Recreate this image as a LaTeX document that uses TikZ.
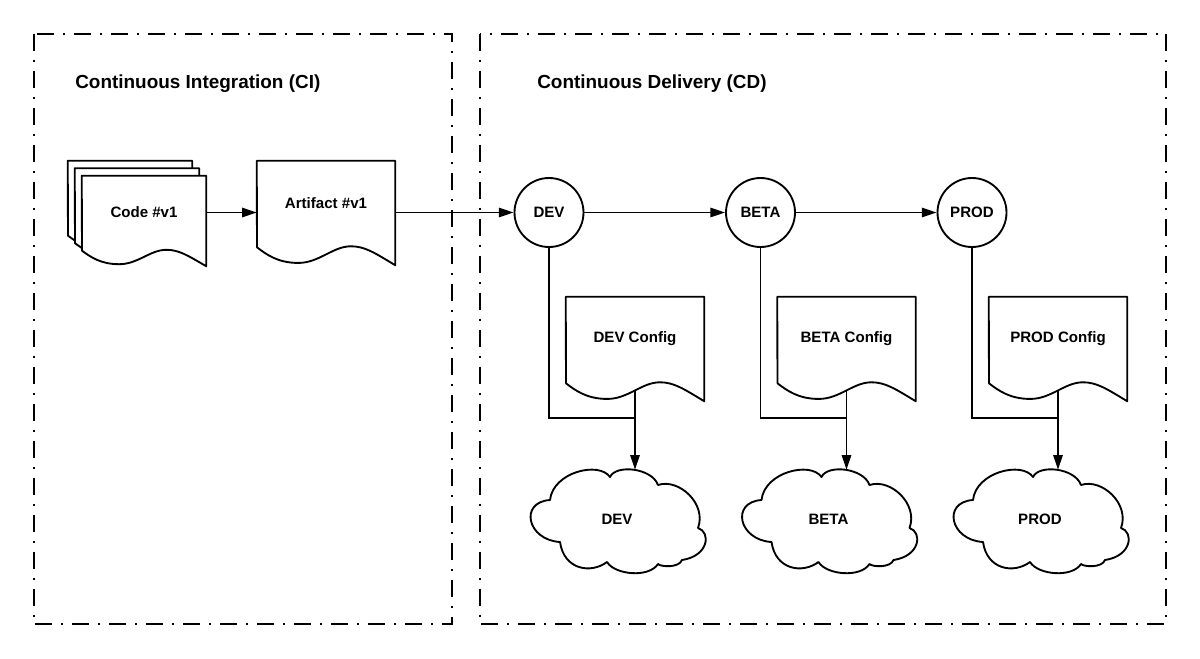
\documentclass[tikz,border=0pt]{standalone}
\usepackage{fontspec}
\setmainfont{Liberation Sans}
\usetikzlibrary{arrows.meta,calc}
\tikzset{
  pline/.style={line width=1.4pt, black},
  arr/.style={pline, -{Triangle[length=11pt,width=7pt]}},
  docline/.style={pline, fill=white, line join=round},
  region/.style={line width=1.3pt, dash pattern=on 12.75pt off 6.75pt on 1.5pt off 6.75pt},
  lbl/.style={font=\fontsize{11.3}{13}\selectfont\bfseries, inner sep=0pt},
  ttl/.style={font=\fontsize{14.2}{16}\selectfont\bfseries, inner sep=0pt, anchor=west},
  ghost/.style={draw=none, inner sep=0pt, rectangle},
  stage/.style={circle, draw, pline, fill=white, minimum size=51.75pt, inner sep=0pt, font=\fontsize{11.3}{13}\selectfont\bfseries},
}
% #1 name, #2 x, #3 y, #4 w, #5 h
\newcommand\docoutline[5]{%
  \node[ghost, minimum width=#4*0.75pt, minimum height=#5*0.75pt] (#1) at ({#2+0.5*#4},{#3+0.5*#5}) {};
  \draw[docline] (#1.north west) -- (#1.north east) -- (#1.south east)
    .. controls ({#2+0.85*#4},{#3+0.88*#5}) and ({#2+0.78*#4},{#3+0.82*#5}) .. ({#2+0.68*#4},{#3+0.82*#5})
    .. controls ({#2+0.55*#4},{#3+0.82*#5}) and ({#2+0.45*#4},{#3+0.98*#5}) .. ({#2+0.3*#4},{#3+0.98*#5})
    .. controls ({#2+0.15*#4},{#3+0.98*#5}) and ({#2+0.07*#4},{#3+0.9*#5}) .. ({#2},{#3+0.83*#5}) -- cycle;
  \coordinate (#1-b) at ({#2+0.5*#4},{#3+0.9*#5});
}
% #1 name, #2 x, #3 y, #4 text
\newcommand\cloudshape[4]{%
  \node[ghost, minimum width=132pt, minimum height=77.25pt] (#1) at ({#2+88},{#3+51.5}) {};
  \draw[docline, shift={(#2,#3)}] (29,72) .. controls (-4,70) and (-12,32) .. (19,30)
    .. controls (22,2) and (68,-9) .. (79,7)
    .. controls (85,-6) and (121,-2) .. (127,15)
    .. controls (148,8) and (176,34) .. (167,58)
    .. controls (180,62) and (178,86) .. (151,90)
    .. controls (148,98) and (130,97) .. (127,94)
    .. controls (118,108) and (84,105) .. (76,92)
    .. controls (60,104) and (33,100) .. (29,72) -- cycle;
  \node[lbl] (#1-t) at ({#2+86},{#3+49}) {#4};
}
\begin{document}
\begin{tikzpicture}[x=0.75pt, y=-0.75pt]
\useasboundingbox (0,0) rectangle (1200,658);
\fill[white] (0,0) rectangle (1200,658);

% regions
\node[ghost, minimum width=313.5pt, minimum height=442.5pt] (ci) at (243,329) {};
\draw[region] (ci.north west) rectangle (ci.south east);
\node[ghost, minimum width=514.5pt, minimum height=442.5pt] (cd) at (823,329) {};
\draw[region] (cd.north west) rectangle (cd.south east);
\node[ttl] (citl) at (75,84) {Continuous Integration (CI)};
\node[ttl] (cdtl) at (537,84) {Continuous Delivery (CD)};

% code stack
\docoutline{code3}{68}{161}{124}{90}
\docoutline{code2}{75}{168.5}{124}{90}
\docoutline{code}{82}{176}{124}{90}
\node[lbl] (codet) at (144,212) {Code \#v1};

% artifact
\docoutline{art}{257}{161}{138}{104}
\node[lbl] (artt) at (326,203) {Artifact \#v1};

% stages
\node[stage] (devc) at (549,212.5) {DEV};
\node[stage] (betac) at (760.5,212.5) {BETA};
\node[stage] (prodc) at (972,212.5) {PROD};

% configs
\docoutline{devcfg}{566}{297}{138}{104}
\node[lbl] (devcfgt) at (635,339) {DEV Config};
\docoutline{betacfg}{777.5}{297}{138}{104}
\node[lbl] (betacfgt) at (846.5,339) {BETA Config};
\docoutline{prodcfg}{989}{297}{138}{104}
\node[lbl] (prodcfgt) at (1058,339) {PROD Config};

% clouds
\cloudshape{devcl}{531}{470}{DEV}
\cloudshape{betacl}{742.5}{470}{BETA}
\cloudshape{prodcl}{954}{470}{PROD}

% junctions
\coordinate (devj) at (635,418);
\coordinate (betaj) at (846.5,418);
\coordinate (prodj) at (1058,418);

% connectors
\draw[arr] (code.east |- devc) -- (art.west |- devc);
\draw[arr] (art.east |- devc) -- (devc.west);
\draw[arr] (devc) -- (betac);
\draw[arr] (betac) -- (prodc);

\draw[pline] (devc.south) |- (devj);
\draw[pline] (devcfg-b) -- (devj);
\draw[arr] (devj) -- (devcl.north -| devj);
\draw[pline] (betac.south) |- (betaj);
\draw[pline] (betacfg-b) -- (betaj);
\draw[arr] (betaj) -- (betacl.north -| betaj);
\draw[pline] (prodc.south) |- (prodj);
\draw[pline] (prodcfg-b) -- (prodj);
\draw[arr] (prodj) -- (prodcl.north -| prodj);
\end{tikzpicture}
\end{document}
